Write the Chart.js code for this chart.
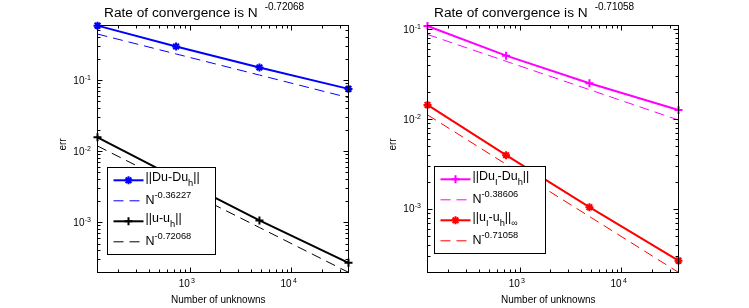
<!DOCTYPE html>
<html><head><meta charset="utf-8">
<script src="https://cdn.jsdelivr.net/npm/chart.js@4.4.1/dist/chart.umd.min.js"></script>
<style>
html,body{margin:0;padding:0;background:#fff;width:749px;height:308px;overflow:hidden}
canvas{position:absolute;top:0}
#c1{left:0}
#c2{left:374px}
</style></head><body>
<canvas id="c1" width="374" height="308"></canvas>
<canvas id="c2" width="375" height="308"></canvas>
<script>
// ---- data ----
const unknowns  = [123, 728, 4800, 36000];
const errDu     = [0.592, 0.302, 0.1527, 0.0763];
const refDu     = [0.451, 0.2366, 0.1194, 0.0575];
const errU      = [0.0159, 0.00427, 0.001077, 0.000272];
const refU      = [0.0120, 0.00332, 0.000855, 0.000200];
const errDuI    = [0.110, 0.0514, 0.02535, 0.01279];
const refDuI    = [0.0885, 0.0445, 0.0215, 0.00987];
const errUInf   = [0.01454, 0.00401, 0.001058, 0.000269];
const refUInf   = [0.01128, 0.00318, 0.000834, 0.000199];
const xTickExps = [3, 4];
const yTickExps = [-1, -2, -3];
const titleText = 'Rate of convergence is N';
const rateLeft  = '-0.72068';
const rateRight = '-0.71058';
const xTitle = 'Number of unknowns';
const yTitle = 'err';
const legendLeftParts = [
  [['||Du-Du','n'],['h','sub'],['||','n']],
  [['N','n'],['-0.36227','sup']],
  [['||u-u','n'],['h','sub'],['||','n']],
  [['N','n'],['-0.72068','sup']]
];
const legendRightParts = [
  [['||Du','n'],['I','sub'],['-Du','n'],['h','sub'],['||','n']],
  [['N','n'],['-0.38606','sup']],
  [['||u','n'],['I','sub'],['-u','n'],['h','sub'],['||','n'],['\u221E','sub']],
  [['N','n'],['-0.71058','sup']]
];

const FONT = '"Liberation Sans", Arial, Helvetica, sans-serif';
const f = s => s + 'px ' + FONT;
const DASH = [10, 6];

function toXY(ys) { return unknowns.map((n, i) => ({x: n, y: ys[i]})); }

function marker(ctx, style, x, y, r, color) {
  ctx.save(); ctx.strokeStyle = color; ctx.lineWidth = 2; ctx.setLineDash([]);
  ctx.beginPath();
  ctx.moveTo(x - r, y); ctx.lineTo(x + r, y); ctx.moveTo(x, y - r); ctx.lineTo(x, y + r);
  if (style === 'star') {
    const d = r * Math.SQRT1_2;
    ctx.moveTo(x - d, y - d); ctx.lineTo(x + d, y + d);
    ctx.moveTo(x - d, y + d); ctx.lineTo(x + d, y - d);
  }
  ctx.stroke(); ctx.restore();
}

function richText(ctx, x, y, parts) {
  let cx = x;
  ctx.textAlign = 'left'; ctx.textBaseline = 'alphabetic'; ctx.fillStyle = '#000';
  for (const [t, kind] of parts) {
    if (kind === 'n') { ctx.font = f(12.5); ctx.fillText(t, cx, y); }
    else { ctx.font = f(9.3); ctx.fillText(t, cx, y + (kind === 'sup' ? -6 : 5.5)); }
    cx += ctx.measureText(t).width;
  }
}

const decor = {
  id: 'decor',
  afterDraw(chart) {
    const o = chart.options.plugins.decor;
    const ctx = chart.ctx, a = chart.chartArea, xs = chart.scales.x, ys = chart.scales.y;
    ctx.save();
    ctx.strokeStyle = '#000'; ctx.lineWidth = 1; ctx.setLineDash([]);
    // box
    ctx.strokeRect(a.left, a.top, a.right - a.left, a.bottom - a.top);
    // ticks (inward, all four sides)
    ctx.beginPath();
    for (let e = Math.floor(Math.log10(xs.min)); e <= Math.ceil(Math.log10(xs.max)); e++) {
      for (let k = 1; k <= 9; k++) {
        const v = k * Math.pow(10, e);
        if (v <= xs.min || v >= xs.max) continue;
        const px = Math.floor(xs.getPixelForValue(v)) + 0.5, len = k === 1 ? 5 : 3;
        ctx.moveTo(px, a.bottom); ctx.lineTo(px, a.bottom - len);
        ctx.moveTo(px, a.top); ctx.lineTo(px, a.top + len);
      }
    }
    for (let e = Math.floor(Math.log10(ys.min)); e <= Math.ceil(Math.log10(ys.max)); e++) {
      for (let k = 1; k <= 9; k++) {
        const v = k * Math.pow(10, e);
        if (v <= ys.min || v >= ys.max) continue;
        const py = Math.floor(ys.getPixelForValue(v)) + 0.5, len = k === 1 ? 5 : 3;
        ctx.moveTo(a.left, py); ctx.lineTo(a.left + len, py);
        ctx.moveTo(a.right, py); ctx.lineTo(a.right - len, py);
      }
    }
    ctx.stroke();
    // tick labels
    ctx.fillStyle = '#000'; ctx.textBaseline = 'alphabetic';
    for (const e of xTickExps) {
      const px = xs.getPixelForValue(Math.pow(10, e));
      ctx.font = f(10); ctx.textAlign = 'right'; ctx.fillText('10', px - 0.3, 287.3);
      ctx.font = f(7); ctx.textAlign = 'left'; ctx.fillText(String(e), px + 1, 283.3);
    }
    for (const e of yTickExps) {
      const py = ys.getPixelForValue(Math.pow(10, e));
      const s = String(e);
      ctx.font = f(7); const w2 = ctx.measureText(s).width;
      ctx.textAlign = 'right'; ctx.fillText(s, a.left - 6.5, py - 1);
      ctx.font = f(10); ctx.fillText('10', a.left - 6.5 - w2 - 0.3, py + 3);
    }
    // title
    ctx.textAlign = 'left';
    ctx.font = f(13.7);
    const tx = a.left + 6.5;
    ctx.fillText(titleText, tx, 16.7);
    const tw = ctx.measureText(titleText).width;
    ctx.font = f(10);
    ctx.fillText(o.rate, tx + tw + 7, 9.5);
    // axis titles
    ctx.font = f(10); ctx.textAlign = 'center';
    ctx.fillText(xTitle, (a.left + a.right) / 2 - 4.8, 303.3);
    ctx.save();
    ctx.translate(a.left - 31.8, 144.5); ctx.rotate(-Math.PI / 2);
    ctx.fillText(yTitle, 0, 0);
    ctx.restore();
    // legend
    const L = o.legend;
    ctx.fillStyle = '#fff'; ctx.fillRect(L.x, L.y, L.w, L.h);
    ctx.strokeStyle = '#000'; ctx.lineWidth = 1; ctx.strokeRect(L.x, L.y, L.w, L.h);
    const offs = [12.8, 33.3, 53.8, 74.3];
    L.entries.forEach((en, i) => {
      const ly = L.y + offs[i];
      ctx.save();
      ctx.strokeStyle = en.color; ctx.lineWidth = en.dashed ? 1 : 2;
      ctx.setLineDash(en.dashed ? DASH : []);
      ctx.beginPath(); ctx.moveTo(L.x + 6, ly); ctx.lineTo(L.x + 36, ly); ctx.stroke();
      ctx.restore();
      if (en.marker) marker(ctx, en.marker, L.x + 21, ly, 4, en.color);
      richText(ctx, L.x + 38, ly + (en.dashed ? 3 : 0.5), en.parts);
    });
    ctx.restore();
  }
};

function makeChart(id, cfg) {
  const cv = document.getElementById(id);
  const W = cv.width, H = cv.height;
  const datasets = cfg.series.map(s => ({
    data: toXY(s.values),
    borderColor: s.color,
    backgroundColor: s.color,
    borderWidth: s.dashed ? 1 : 2,
    borderDash: s.dashed ? DASH : [],
    pointRadius: s.dashed ? 0 : 4,
    pointStyle: s.marker === 'plus' ? 'cross' : 'star',
    pointBorderWidth: 2,
    pointBorderColor: s.color,
    pointBackgroundColor: s.color,
    fill: false, tension: 0, clip: false
  }));
  return new Chart(cv, {
    type: 'line',
    data: { datasets },
    options: {
      responsive: false, animation: false, devicePixelRatio: 1, events: [],
      layout: { padding: { left: 0, right: W - cfg.area.right, top: cfg.area.top, bottom: 0 } },
      plugins: {
        legend: { display: false }, tooltip: { enabled: false }, title: { display: false },
        decor: { rate: cfg.rate, legend: cfg.legend }
      },
      scales: {
        x: {
          type: 'logarithmic', min: unknowns[0], max: unknowns[unknowns.length - 1],
          grid: { display: false, drawTicks: false }, border: { display: false },
          ticks: { display: false },
          afterFit: s => { s.height = H - cfg.area.bottom; }
        },
        y: {
          type: 'logarithmic', min: cfg.ymin, max: cfg.ymax,
          grid: { display: false, drawTicks: false }, border: { display: false },
          ticks: { display: false },
          afterFit: s => { s.width = cfg.area.left; }
        }
      }
    },
    plugins: [decor]
  });
}

makeChart('c1', {
  area: { left: 97.5, right: 348.5, top: 25.5, bottom: 272.5 },
  ymin: 1.99e-4, ymax: 0.595, rate: rateLeft,
  series: [
    { values: errDu, color: '#0000ff', marker: 'star' },
    { values: refDu, color: '#0000ff', dashed: true },
    { values: errU, color: '#000000', marker: 'plus' },
    { values: refU, color: '#000000', dashed: true }
  ],
  legend: { x: 107.5, y: 167.5, w: 108, h: 87, entries: [
    { parts: legendLeftParts[0], color: '#0000ff', marker: 'star' },
    { parts: legendLeftParts[1], color: '#0000ff', dashed: true },
    { parts: legendLeftParts[2], color: '#000000', marker: 'plus' },
    { parts: legendLeftParts[3], color: '#000000', dashed: true }
  ]}
});

makeChart('c2', {
  area: { left: 53.5, right: 304.5, top: 25.5, bottom: 272.5 },
  ymin: 1.985e-4, ymax: 0.1113, rate: rateRight,
  series: [
    { values: errDuI, color: '#ff00ff', marker: 'plus' },
    { values: refDuI, color: '#ff00ff', dashed: true },
    { values: errUInf, color: '#ff0000', marker: 'star' },
    { values: refUInf, color: '#ff0000', dashed: true }
  ],
  legend: { x: 60.5, y: 166.5, w: 111, h: 87, entries: [
    { parts: legendRightParts[0], color: '#ff00ff', marker: 'plus' },
    { parts: legendRightParts[1], color: '#ff00ff', dashed: true },
    { parts: legendRightParts[2], color: '#ff0000', marker: 'star' },
    { parts: legendRightParts[3], color: '#ff0000', dashed: true }
  ]}
});
</script>
</body></html>
